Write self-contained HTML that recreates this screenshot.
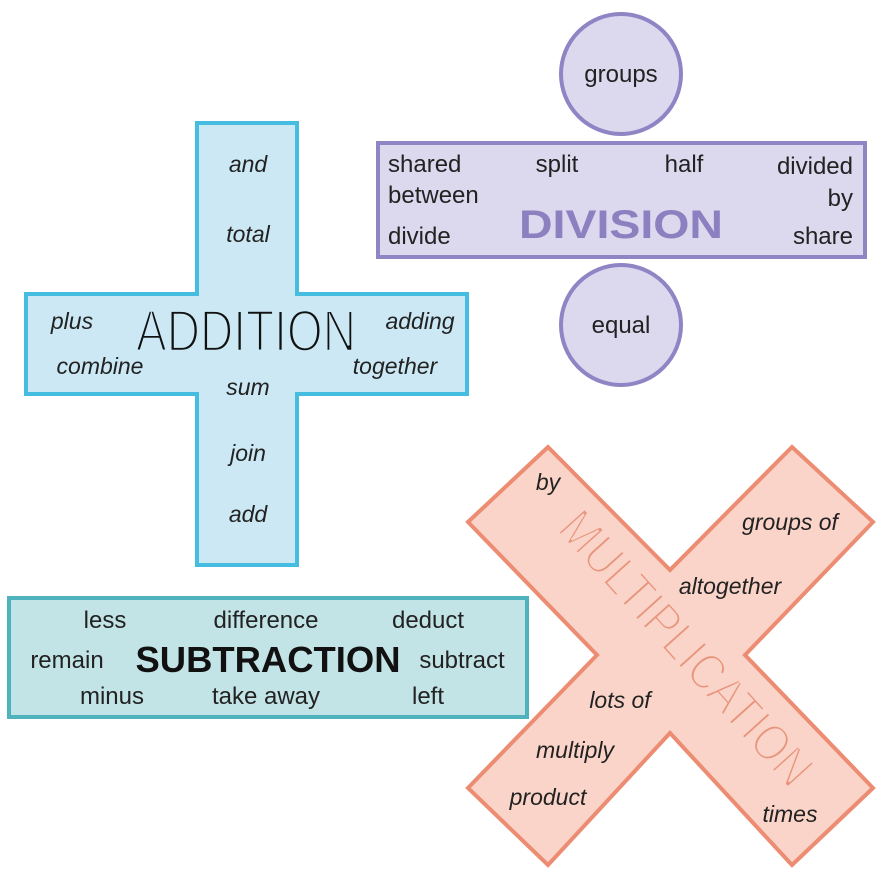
<!DOCTYPE html>
<html><head><style>
html,body{margin:0;padding:0;background:#fff;}
svg{display:block;}
.h{font-family:"Liberation Sans Narrow","Liberation Sans",sans-serif;font-style:italic;font-size:23px;fill:#222;text-anchor:middle;}
.s{font-family:"Liberation Sans","DejaVu Sans",sans-serif;font-size:24px;fill:#222;}
</style></head><body>
<svg width="888" height="888" viewBox="0 0 888 888">
<!-- Addition -->
<path d="M197 123H297V294H467V394H297V565H197V394H26V294H197Z" fill="#cbe8f4" stroke="#45bde0" stroke-width="4"/>
<text class="h" x="248" y="172">and</text>
<text class="h" x="248" y="242">total</text>
<text class="h" x="72" y="329">plus</text>
<text class="h" x="420" y="329">adding</text>
<text class="h" x="100" y="374">combine</text>
<text class="h" x="395" y="374">together</text>
<text class="h" x="248" y="395">sum</text>
<text class="h" x="248" y="461">join</text>
<text class="h" x="248" y="522">add</text>
<text x="246" y="351" text-anchor="middle" font-family="Liberation Sans Narrow, Liberation Sans, sans-serif" font-size="58" fill="#111" stroke="#cbe8f4" stroke-width="2.5" textLength="220" lengthAdjust="spacingAndGlyphs">ADDITION</text>

<!-- Division -->
<circle cx="621" cy="74" r="60" fill="#dcd8ee" stroke="#8f84c4" stroke-width="4"/>
<circle cx="621" cy="325" r="60" fill="#dcd8ee" stroke="#8f84c4" stroke-width="4"/>
<rect x="378" y="143" width="487" height="114" fill="#dcd8ee" stroke="#8f84c4" stroke-width="4"/>
<text class="s" x="621" y="82" text-anchor="middle">groups</text>
<text class="s" x="621" y="333" text-anchor="middle">equal</text>
<text class="s" x="388" y="172">shared</text>
<text class="s" x="557" y="172" text-anchor="middle">split</text>
<text class="s" x="684" y="172" text-anchor="middle">half</text>
<text class="s" x="853" y="174" text-anchor="end">divided</text>
<text class="s" x="388" y="203">between</text>
<text class="s" x="853" y="206" text-anchor="end">by</text>
<text class="s" x="388" y="244">divide</text>
<text class="s" x="853" y="244" text-anchor="end">share</text>
<text x="621" y="238" text-anchor="middle" font-family="Liberation Sans, sans-serif" font-weight="bold" font-size="40" fill="#8d80c0" textLength="204" lengthAdjust="spacingAndGlyphs">DIVISION</text>

<!-- Subtraction -->
<rect x="9" y="598" width="518" height="119" fill="#c3e4e6" stroke="#4fb3bd" stroke-width="4"/>
<text class="s" x="105" y="628" text-anchor="middle">less</text>
<text class="s" x="266" y="628" text-anchor="middle">difference</text>
<text class="s" x="428" y="628" text-anchor="middle">deduct</text>
<text class="s" x="67" y="668" text-anchor="middle">remain</text>
<text class="s" x="462" y="668" text-anchor="middle">subtract</text>
<text class="s" x="112" y="704" text-anchor="middle">minus</text>
<text class="s" x="266" y="704" text-anchor="middle">take away</text>
<text class="s" x="428" y="704" text-anchor="middle">left</text>
<text x="268" y="672" text-anchor="middle" font-family="Liberation Sans, sans-serif" font-weight="bold" font-size="36" fill="#111" textLength="265" lengthAdjust="spacingAndGlyphs">SUBTRACTION</text>

<!-- Multiplication -->
<path d="M548 447L670 570L792 447L873 522L745 655L873 788L792 865L670 733L548 865L468 788L597 655L468 522Z" fill="#fad4c8" stroke="#ec8c72" stroke-width="4" stroke-linejoin="miter"/>
<text class="h" x="548" y="490">by</text>
<text class="h" x="790" y="530">groups of</text>
<text class="h" x="730" y="594">altogether</text>
<text class="h" x="620" y="708">lots of</text>
<text class="h" x="575" y="758">multiply</text>
<text class="h" x="548" y="805">product</text>
<text class="h" x="790" y="822">times</text>
<text x="0" y="0" transform="translate(673,660) rotate(48)" text-anchor="middle" font-family="Liberation Sans Narrow, Liberation Sans, sans-serif" font-size="52" fill="#e8957d" stroke="#fad4c8" stroke-width="2.5" textLength="350" lengthAdjust="spacingAndGlyphs">MULTIPLICATION</text>
</svg>
</body></html>
